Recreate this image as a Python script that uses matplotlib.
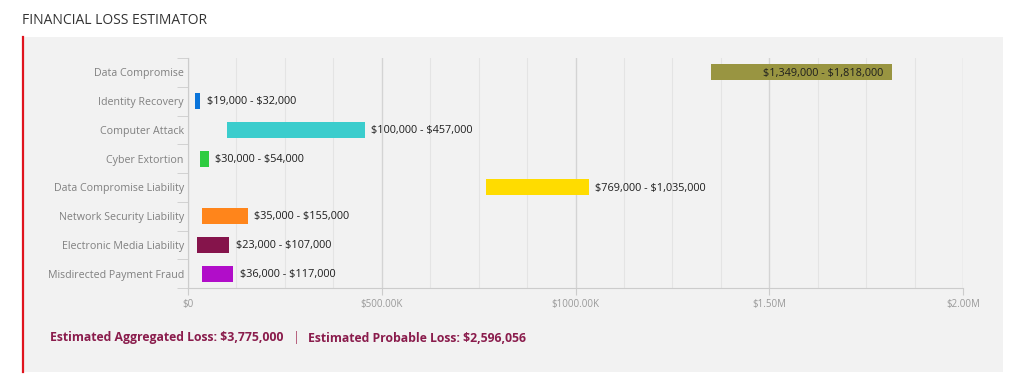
import matplotlib
matplotlib.use("Agg")
import matplotlib.pyplot as plt
from matplotlib.patches import Rectangle
from matplotlib.lines import Line2D
from matplotlib.ticker import FixedLocator, MultipleLocator

plt.rcParams['font.family'] = ['Open Sans', 'DejaVu Sans']
plt.rcParams['text.parse_math'] = False

categories = ["Data Compromise", "Identity Recovery", "Computer Attack", "Cyber Extortion",
              "Data Compromise Liability", "Network Security Liability",
              "Electronic Media Liability", "Misdirected Payment Fraud"]
lows = [1349000, 19000, 100000, 30000, 769000, 35000, 23000, 36000]
highs = [1818000, 32000, 457000, 54000, 1035000, 155000, 107000, 117000]
colors = ["#999541", "#0a74da", "#3bcdcd", "#2ecc40", "#ffdc00", "#ff851b", "#85144b", "#b10dc9"]
xticks = [0, 500000, 1000000, 1500000, 2000000]
xticklabels = ["$0", "$500.00K", "$1000.00K", "$1.50M", "$2.00M"]
aggregated = "$3,775,000"
probable = "$2,596,056"

fig = plt.figure(figsize=(10.24, 3.87), dpi=100)
fig.patch.set_facecolor("white")

W, H = 1024, 387
# grey panel and red left rule
fig.patches.append(Rectangle((22 / W, 1 - 372 / H), (1003 - 22) / W, (372 - 37) / H,
                             transform=fig.transFigure, facecolor="#f2f2f2", edgecolor="none", zorder=-5))
fig.lines.append(Line2D([22.5 / W, 22.5 / W], [1 - 37 / H, 1 - 372 / H], transform=fig.transFigure,
                        color="#e0141e", linewidth=1.6))

fig.text(22 / W, 1 - 20 / H, "FINANCIAL LOSS ESTIMATOR", fontsize=10, color="#333333", va="center", ha="left")

ax = fig.add_axes([188 / W, 1 - 288 / H, (963 - 188) / W, (288 - 58) / H])
ax.set_zorder(2)
ax.set_facecolor("#f2f2f2")

ypos = list(range(len(categories)))
widths = [h - l for l, h in zip(lows, highs)]
ax.barh(ypos, widths, left=lows, height=0.56, color=colors, zorder=3)

for i, (l, h) in enumerate(zip(lows, highs)):
    label = "${:,} - ${:,}".format(l, h)
    if h > 1500000:
        ax.text(h - 25000, i + 0.03, label, ha="right", va="center", fontsize=7.8, color="#1e1e1e", zorder=4)
    else:
        ax.text(h + 16000, i + 0.03, label, ha="left", va="center", fontsize=7.8, color="#1e1e1e", zorder=4)

ax.set_xlim(0, 2000000)
ax.set_ylim(7.5, -0.5)

ax.set_xticks(xticks)
ax.set_xticklabels(xticklabels, fontsize=7, color="#999999")
ax.xaxis.set_minor_locator(MultipleLocator(125000))
ax.grid(which="major", axis="x", color="#d4d4d4", linewidth=1.0, zorder=0)
ax.grid(which="minor", axis="x", color="#e4e4e4", linewidth=0.8, zorder=0)
ax.set_axisbelow(True)
ax.tick_params(axis="x", which="major", length=5, color="#cccccc", pad=3)
ax.tick_params(axis="x", which="minor", length=0)

ax.set_yticks(ypos)
ax.set_yticklabels(categories, fontsize=7.7, color="#808080")
ax.yaxis.set_minor_locator(FixedLocator([i + 0.5 for i in range(-1, len(categories))]))
ax.tick_params(axis="y", which="major", length=0, pad=3)
ax.tick_params(axis="y", which="minor", length=8, color="#cccccc")

for side in ["top", "right"]:
    ax.spines[side].set_visible(False)
ax.spines["left"].set_color("#cccccc")
ax.spines["bottom"].set_color("#cccccc")

fig.text(50 / W, 1 - 338 / H, "Estimated Aggregated Loss: " + aggregated, fontsize=8.8, fontweight="bold",
         color="#8a1c4c", va="center", ha="left")
fig.text(296 / W, 1 - 338 / H, "|", fontsize=8.8, color="#b05070", va="center", ha="center")
fig.text(308 / W, 1 - 338 / H, "Estimated Probable Loss: " + probable, fontsize=8.8, fontweight="bold",
         color="#8a1c4c", va="center", ha="left")

fig.savefig("out.png", dpi=100)
